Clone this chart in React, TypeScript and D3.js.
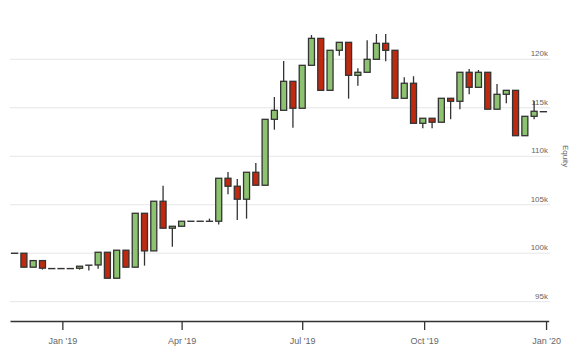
import React, { useEffect, useRef } from 'react'
import * as d3 from 'd3'

// weekly candles (week start)
const weeks = [
  '2018-11-26', '2018-12-03', '2018-12-10', '2018-12-17', '2018-12-24', '2018-12-31',
  '2019-01-07', '2019-01-14', '2019-01-21', '2019-01-28', '2019-02-04', '2019-02-11',
  '2019-02-18', '2019-02-25', '2019-03-04', '2019-03-11', '2019-03-18', '2019-03-25',
  '2019-04-01', '2019-04-08', '2019-04-15', '2019-04-22', '2019-04-29', '2019-05-06',
  '2019-05-13', '2019-05-20', '2019-05-27', '2019-06-03', '2019-06-10', '2019-06-17',
  '2019-06-24', '2019-07-01', '2019-07-08', '2019-07-15', '2019-07-22', '2019-07-29',
  '2019-08-05', '2019-08-12', '2019-08-19', '2019-08-26', '2019-09-02', '2019-09-09',
  '2019-09-16', '2019-09-23', '2019-09-30', '2019-10-07', '2019-10-14', '2019-10-21',
  '2019-10-28', '2019-11-04', '2019-11-11', '2019-11-18', '2019-11-25', '2019-12-02',
  '2019-12-09', '2019-12-16', '2019-12-23', '2019-12-30',
]

const opens = [
  100000, 100000, 98560, 99240, 98420, 98420, 98420, 98450, 98770, 98790, 100100, 97420,
  100310, 98560, 104120, 100240, 105360, 102580, 102780, 103300, 103300, 103300, 103300, 107730,
  106910, 105570, 108350, 107010, 113810, 114740, 117730, 114950, 119380, 122160, 116800, 120930,
  121750, 118350, 118660, 120000, 121650, 120930, 115980, 117530, 113400, 113920, 113510, 115980,
  115670, 118660, 117110, 118660, 114850, 116390, 116800, 112120, 114120, 114600,
]
const highs = [
  100000, 100000, 99240, 99240, 98420, 98420, 98420, 98660, 98770, 100100, 100100, 100310,
  100310, 104120, 104120, 105360, 106970, 102780, 103300, 103300, 103300, 103570, 107730, 108380,
  107660, 108350, 109310, 113810, 116110, 119830, 117730, 119380, 122500, 122160, 120930, 121750,
  121750, 119070, 121960, 122610, 122610, 120930, 118140, 118250, 113920, 113920, 115980, 115980,
  118660, 119000, 118900, 118660, 117450, 116800, 116800, 114120, 115700, 114600,
]
const lows = [
  100000, 98560, 98560, 98310, 98420, 98420, 98420, 98310, 98210, 98410, 97420, 97420,
  98560, 98560, 98720, 100240, 102580, 100680, 102780, 103300, 103300, 103300, 102950, 106080,
  103430, 103570, 107010, 107010, 112740, 114740, 112950, 114950, 119380, 116800, 116800, 120370,
  115940, 117280, 118660, 120000, 119790, 115980, 115980, 113400, 112890, 112890, 113510, 113820,
  114850, 116390, 117110, 114850, 114850, 115460, 112120, 112120, 113820, 114600,
]
const closes = [
  100000, 98560, 99240, 98460, 98420, 98420, 98420, 98660, 98760, 100100, 97420, 100310,
  98560, 104120, 100240, 105360, 102580, 102780, 103300, 103300, 103300, 103300, 107730, 106910,
  105570, 108350, 107010, 113810, 114740, 117730, 114950, 119380, 122160, 116800, 120930, 121750,
  118350, 118660, 120000, 121650, 120930, 115980, 117530, 113400, 113920, 113510, 115980, 115670,
  118660, 117110, 118660, 114850, 116390, 116800, 112120, 114120, 114640, 114600,
]

const yTicks = [95000, 100000, 105000, 110000, 115000, 120000]
const xTicks = ['2019-01-01', '2019-04-01', '2019-07-01', '2019-10-01', '2020-01-01']

const parse = d3.timeParse('%Y-%m-%d')
const font = '"Liberation Sans", Arial, sans-serif'
const up = '#8dc270'
const down = '#bd2a10'
const ink = '#333'

const XAxis = ({ scale, y }: { scale: d3.ScaleTime<number, number>; y: number }) => {
  const ref = useRef<SVGGElement>(null)
  useEffect(() => {
    if (!ref.current) return
    const g = d3.select(ref.current)
    g.call(
      d3.axisBottom(scale)
        .tickValues(xTicks.map((d) => parse(d) as Date))
        .tickFormat(d3.timeFormat("%b '%y") as any)
        .tickSize(9)
        .tickSizeOuter(0)
    )
    g.select('.domain').attr('stroke', ink).attr('stroke-width', 1.3)
    g.selectAll('.tick line').attr('stroke', ink).attr('stroke-width', 1.3)
    g.selectAll('.tick text')
      .attr('fill', '#666')
      .attr('font-family', font)
      .attr('font-size', 9)
      .attr('dy', null)
      .attr('y', 23)
  }, [scale])
  return <g ref={ref} transform={`translate(0,${y})`} />
}

export default function App() {
  const width = 580
  const height = 360
  const axisY = 321

  const x = d3.scaleTime()
    .domain([new Date(2018, 10, 22, 12), new Date(2020, 0, 3)])
    .range([10, 548.7])
  const y = d3.scaleLinear().domain([95000, 120000]).range([301.7, 59.3])
  const bw = 6

  return (
    <svg width={width} height={height} style={{ position: 'absolute', left: 0, top: 0 }}>
      <rect width={width} height={height} fill="#fff" />
      {yTicks.map((t) => (
        <g key={t}>
          <line x1={10} x2={550} y1={y(t)} y2={y(t)} stroke="#e6e6e6" strokeWidth={1} />
          <text x={548} y={y(t) - 3} textAnchor="end" fill="#666" fontFamily={font} fontSize={8}>
            {d3.format('~s')(t)}
          </text>
        </g>
      ))}
      <text
        transform={`translate(563,156) rotate(90)`}
        textAnchor="middle"
        fill="#666"
        fontFamily={font}
        fontSize={8}
      >
        Equity
      </text>

      {weeks.map((w, i) => {
        const cx = x(parse(w) as Date)
        const o = opens[i]
        const c = closes[i]
        const top = y(Math.max(o, c))
        const bot = y(Math.min(o, c))
        return (
          <g key={w}>
            <line x1={cx} x2={cx} y1={y(highs[i])} y2={y(lows[i])} stroke={ink} strokeWidth={1.3} />
            <rect
              x={cx - bw / 2}
              y={top}
              width={bw}
              height={Math.max(0.1, bot - top)}
              fill={c >= o ? up : down}
              stroke={ink}
              strokeWidth={1.3}
            />
          </g>
        )
      })}

      <XAxis scale={x} y={axisY} />
    </svg>
  )
}
